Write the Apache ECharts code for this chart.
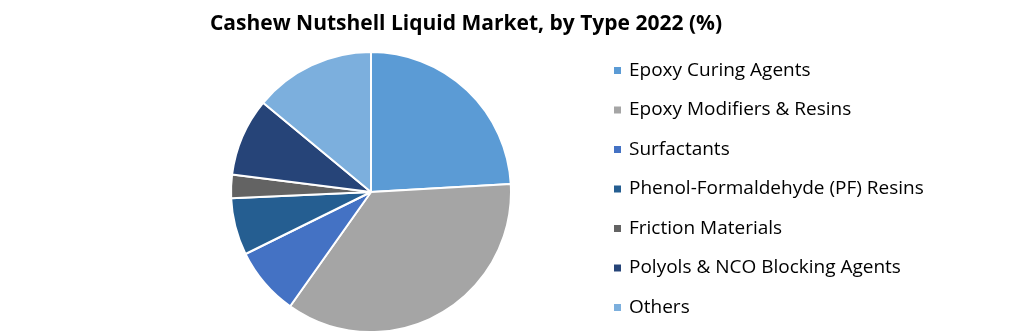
<!DOCTYPE html>
<html><head><meta charset="utf-8">
<script src="https://cdn.jsdelivr.net/npm/echarts@6/dist/echarts.min.js"></script>
<style>html,body{margin:0;padding:0;background:#fff}#c{width:1020px;height:334px}</style>
</head><body><div id="c"></div>
<script>
const title = 'Cashew Nutshell Liquid Market, by Type 2022 (%)';
const categories = ['Epoxy Curing Agents','Epoxy Modifiers & Resins','Surfactants','Phenol-Formaldehyde (PF) Resins','Friction Materials','Polyols & NCO Blocking Agents','Others'];
const values = [24.1, 35.7, 7.9, 6.6, 2.7, 9.0, 14.0];
const colors = ['#5B9BD5','#A5A5A5','#4472C4','#255E91','#636363','#264478','#7CAFDD'];

const chart = echarts.init(document.getElementById('c'), null, {renderer:'canvas'});
chart.setOption({
  animation:false,
  title:{text:title,left:466,textAlign:'center',top:9,textStyle:{fontFamily:'Open Sans',fontWeight:'bold',fontSize:21,color:'#000'}},
  legend:{orient:'vertical',left:612,top:60.5,padding:0,itemWidth:9,itemHeight:9,itemGap:19.5,icon:'rect',
    textStyle:{fontFamily:'Open Sans',fontSize:19,color:'#000',lineHeight:20,padding:[0,0,0,2]},
    data:categories},
  series:[{type:'pie',center:[371,192],radius:140,startAngle:90,clockwise:true,
    label:{show:false},labelLine:{show:false},
    itemStyle:{borderColor:'#fff',borderWidth:2},
    emphasis:{disabled:true},
    data:categories.map((n,i)=>({name:n,value:values[i],itemStyle:{color:colors[i]}}))}]
});
chart.setOption({title:{left:461}});
</script></body></html>
